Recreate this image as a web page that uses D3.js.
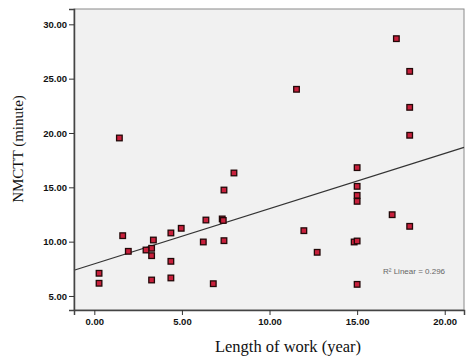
<!DOCTYPE html>
<html><head><meta charset="utf-8">
<script src="https://cdn.jsdelivr.net/npm/d3@7"></script>
<style>body{margin:0;background:#fff}</style>
</head><body>
<svg id="c" width="474" height="361"></svg>
<script>
const lengthOfWork = [17.24,18,18,18,11.54,1.43,7.97,7.40,15,15,15,15,17.0,18,11.96,12.72,14.83,15,15,7.30,7.36,6.37,6.22,7.40,6.79,4.96,4.37,4.37,4.37,3.37,3.27,3.27,3.27,2.95,1.94,1.62,0.27,0.27];
const nmctt = [28.68,25.67,22.36,19.79,24.02,19.54,16.32,14.75,16.81,15.09,14.26,13.71,12.48,11.41,11.01,9.02,9.97,10.06,6.07,12.09,11.95,11.99,9.97,10.09,6.13,11.23,10.80,8.19,6.66,10.15,9.39,8.71,6.47,9.23,9.11,10.55,7.09,6.17];
const xTicks = [0,5,10,15,20];
const yTicks = [5,10,15,20,25,30];
const r2Label = "R\u00B2 Linear = 0.296";
const xTitle = "Length of work (year)";
const yTitle = "NMCTT (minute)";

const svg = d3.select("#c");
const L=74, R=464, T=9, B=310;
const x = d3.scaleLinear().domain([-1.16, 21.1]).range([L, R]);
const y = d3.scaleLinear().domain([3.71, 31.41]).range([B, T]);

svg.append("rect").attr("x",L).attr("y",T).attr("width",R-L).attr("height",B-T)
  .attr("fill","#f1f1f1").attr("stroke","#8a8a8a").attr("stroke-width",1);

// regression
const n = lengthOfWork.length;
const mx = d3.mean(lengthOfWork), my = d3.mean(nmctt);
let sxy=0,sxx=0;
for(let i=0;i<n;i++){sxy+=(lengthOfWork[i]-mx)*(nmctt[i]-my);sxx+=(lengthOfWork[i]-mx)**2;}
const slope = sxy/sxx, icpt = my - slope*mx;
const dom = x.domain();
svg.append("line").attr("x1",x(dom[0])).attr("y1",y(icpt+slope*dom[0]))
  .attr("x2",x(dom[1])).attr("y2",y(icpt+slope*dom[1]))
  .attr("stroke","#333").attr("stroke-width",1.2);

svg.append("g").selectAll("rect").data(d3.range(n)).join("rect")
  .attr("x",i=>x(lengthOfWork[i])-2.8).attr("y",i=>y(nmctt[i])-2.8)
  .attr("width",5.6).attr("height",5.6)
  .attr("fill","#c8203c").attr("stroke","#220808").attr("stroke-width",1.3);

const fmt = d3.format(".2f");
const ya = svg.append("g").attr("transform",`translate(${L},0)`)
  .call(d3.axisLeft(y).tickValues(yTicks).tickFormat(fmt).tickSize(5).tickPadding(2));
const xa = svg.append("g").attr("transform",`translate(0,${B})`)
  .call(d3.axisBottom(x).tickValues(xTicks).tickFormat(fmt).tickSize(5).tickPadding(3));
[ya,xa].forEach(g=>{
  g.select(".domain").attr("stroke","#444").attr("stroke-width",1.5);
  g.selectAll(".tick line").attr("stroke","#333");
  g.selectAll("text").attr("font-family","Liberation Sans, Arial, sans-serif")
   .attr("font-size","9.5px").attr("font-weight","bold").attr("fill","#111");
});

svg.append("text").attr("x",383).attr("y",274).attr("font-family","Liberation Sans, Arial, sans-serif")
  .attr("font-size","8px").attr("fill","#666").text(r2Label);

svg.append("text").attr("x",288).attr("y",352).attr("text-anchor","middle")
  .attr("font-family","Liberation Serif, Times New Roman, serif").attr("font-size","16.5px")
  .attr("fill","#111").text(xTitle);
svg.append("text").attr("transform","translate(23,149) rotate(-90)").attr("text-anchor","middle")
  .attr("font-family","Liberation Serif, Times New Roman, serif").attr("font-size","15px")
  .attr("fill","#111").text(yTitle);
</script>
</body></html>
